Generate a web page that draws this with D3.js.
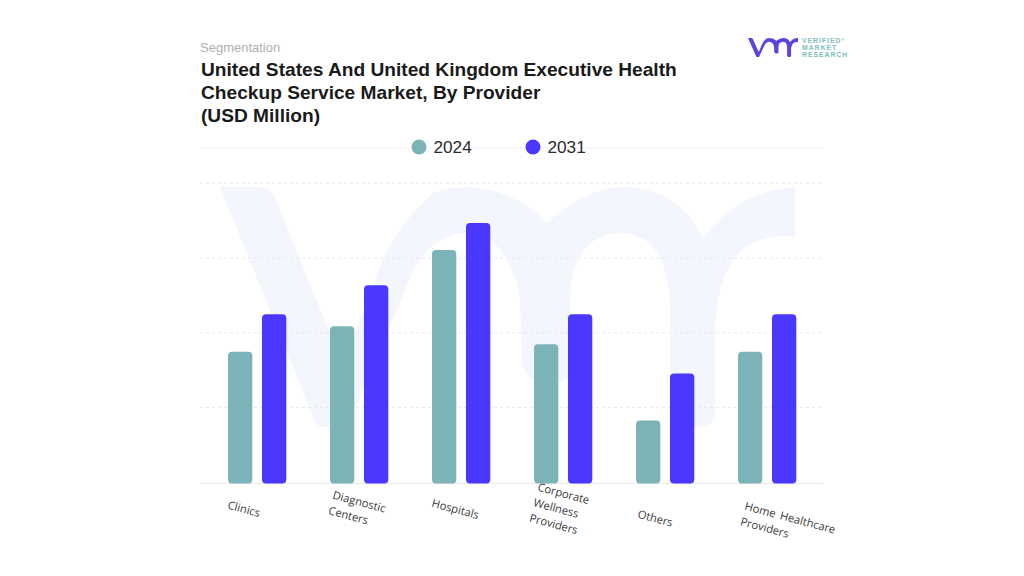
<!DOCTYPE html>
<html>
<head>
<meta charset="utf-8">
<script src="https://cdn.jsdelivr.net/npm/d3@7"></script>
<style>
  html, body { margin: 0; background: #fff; }
  svg { display: block; }
  text { font-family: "Liberation Sans", Arial, sans-serif; }
  .tick-label { font-family: "Open Sans", sans-serif; font-size: 11.2px; fill: #3a3a3a; word-spacing: 2px; }
</style>
</head>
<body>
<svg id="chart" width="1024" height="576"></svg>
<script>
const categories = ['Clinics', 'Diagnostic Centers', 'Hospitals', 'Corporate Wellness Providers', 'Others', 'Home Healthcare Providers'];
const categoryLines = [['Clinics'], ['Diagnostic', 'Centers'], ['Hospitals'], ['Corporate', 'Wellness', 'Providers'], ['Others'], ['Home Healthcare', 'Providers']];
const years = ['2024', '2031'];
const values2024 = [174, 208, 310, 184, 82, 174];
const values2031 = [224, 263, 346, 224, 145, 224];
const gridTicks = [100, 200, 300, 400];
const titleLines = ['United States And United Kingdom Executive Health', 'Checkup Service Market, By Provider', '(USD Million)'];
const logoLines = ['VERIFIED', 'MARKET', 'RESEARCH'];

// hand placed label starts, relative to the centre of each group
const labelOffsets = [[-30, 25], [-27, 15], [-30, 23], [-26, 7], [-28, 34], [-23, 26]];

const COLORS = { 2024: '#7cb3b6', 2031: '#4a38ff' };
const BASELINE = 483.5;

const svg = d3.select('#chart');

// vmr mark, used big as the watermark and small as the logo
const VMR_PATH = 'M220,187 L262,187 Q275,190 281,212 L343,365 L373,287 Q388,233 433,193 Q450,187 467,187 ' +
  'Q515,189 547,223 Q585,187 627,187 Q680,190 703,238 Q740,190 795,187 L795,237 Q750,232 730,265 ' +
  'Q715,290 715,340 L715,415 Q713,427 700,427 L682,427 Q670,427 670,410 L670,300 Q665,233 620,233 ' +
  'Q572,235 570,300 L570,370 Q568,383 550,383 Q523,383 522,360 L520,300 Q510,235 465,233 ' +
  'Q425,235 405,290 L347,427 L317,427 Z';

svg.append('path')
  .attr('d', VMR_PATH)
  .attr('fill', '#f4f6fd');

const y = d3.scaleLinear().domain([0, 400]).range([481.8, 182.7]);
const x0 = d3.scaleBand().domain(categories).range([206, 818]);
const x1 = d3.scaleBand().domain(years).range([22, 80.3]).paddingInner(0.285);

// grid
const grid = svg.append('g')
  .attr('transform', 'translate(200,0)')
  .call(d3.axisLeft(y).tickValues(gridTicks).tickSize(-623).tickFormat(''));
grid.select('.domain').remove();
grid.selectAll('.tick line')
  .attr('stroke', '#e8e8ec')
  .attr('stroke-dasharray', '3,3');

// baseline and the line behind the legend
svg.append('g').selectAll('line')
  .data([BASELINE, 148])
  .join('line')
  .attr('x1', 200).attr('x2', 823)
  .attr('y1', d => d).attr('y2', d => d)
  .attr('stroke', (d, i) => i === 0 ? '#e8e8ec' : '#f0f0f2');

// bars
const groups = svg.append('g').selectAll('g')
  .data(categories)
  .join('g')
  .attr('transform', d => `translate(${x0(d)},0)`);

groups.selectAll('rect')
  .data((d, i) => [
    { year: '2024', value: values2024[i] },
    { year: '2031', value: values2031[i] }
  ])
  .join('rect')
  .attr('x', d => x1(d.year))
  .attr('y', d => y(d.value))
  .attr('width', x1.bandwidth())
  .attr('height', d => BASELINE - y(d.value))
  .attr('rx', 4)
  .attr('fill', d => COLORS[d.year]);

// category labels
const xAxis = svg.append('g')
  .attr('transform', `translate(0,${BASELINE})`)
  .call(d3.axisBottom(x0).tickSize(0));
xAxis.select('.domain').remove();
xAxis.selectAll('.tick text').each(function (d, i) {
  const label = d3.select(this)
    .text(null)
    .attr('class', 'tick-label')
    .attr('x', null).attr('y', null).attr('dy', null)
    .attr('text-anchor', 'start')
    .attr('fill', null)
    .attr('transform', `translate(${labelOffsets[i][0]},${labelOffsets[i][1]}) rotate(15)`);
  categoryLines[i].forEach((line, k) => {
    label.append('tspan')
      .attr('x', 0)
      .attr('dy', k === 0 ? 0 : 16)
      .text(line);
  });
});

// legend
const legendX = d3.scaleOrdinal().domain(years).range([419, 533]);
const legend = svg.append('g').selectAll('g')
  .data(years)
  .join('g')
  .attr('transform', d => `translate(${legendX(d)},147)`);
legend.append('circle').attr('r', 7.5).attr('fill', d => COLORS[d]);
legend.append('text')
  .attr('x', 14.5)
  .attr('y', 6)
  .attr('font-size', 17.2)
  .attr('fill', '#2b2b2b')
  .text(d => d);

// headings
svg.append('text')
  .attr('x', 200).attr('y', 52)
  .attr('font-size', 13)
  .attr('fill', '#b0b0b0')
  .text('Segmentation');

svg.append('g').selectAll('text')
  .data(titleLines)
  .join('text')
  .attr('x', 201)
  .attr('y', (d, i) => 75.5 + i * 23.3)
  .attr('font-size', 19.15)
  .attr('font-weight', 700)
  .attr('fill', '#1a1a1a')
  .text(d => d);

// logo
svg.append('path')
  .attr('d', VMR_PATH)
  .attr('fill', '#5a45dc')
  .attr('transform', 'translate(748,38) scale(0.087,0.079) translate(-220,-187)');

const logoText = svg.append('g').selectAll('text')
  .data(logoLines)
  .join('text')
  .attr('x', 802)
  .attr('y', (d, i) => 42.5 + i * 7.2)
  .attr('font-size', 6.8)
  .attr('font-weight', 700)
  .attr('letter-spacing', 1)
  .attr('fill', '#7cc0c0')
  .text(d => d);
logoText.filter((d, i) => i === 0).append('tspan')
  .attr('font-size', 4)
  .attr('dy', -2)
  .text('®');
</script>
</body>
</html>
